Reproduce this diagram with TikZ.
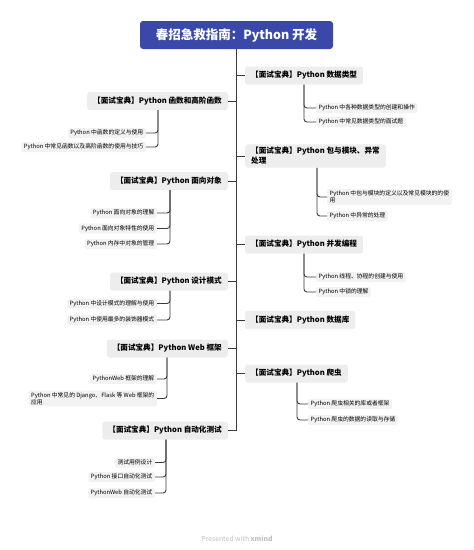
\documentclass[tikz,border=0pt]{standalone}
\usepackage{fontspec}
\setmainfont{Noto Sans CJK SC}
\usepackage{tikz}
\usepackage{xcolor}
\usetikzlibrary{positioning,calc}
\definecolor{rootblue}{HTML}{3A49A9}
\definecolor{linegray}{HTML}{3A3A3A}

\begin{document}
\begin{tikzpicture}[
      x=1pt, y=-1pt,
      root/.style={fill=rootblue, rounded corners=3pt, minimum width=193pt, minimum height=28pt, text=white, font=\fontsize{12.5}{14}\selectfont\bfseries},
      topic/.style={fill=black!7, rounded corners=2.5pt, inner xsep=6pt, inner ysep=3pt, minimum height=18pt, align=left, font=\fontsize{7.6}{10}\selectfont\bfseries},
      sub/.style={fill=black!5, rounded corners=1.5pt, inner xsep=2.5pt, inner ysep=1.5pt, minimum height=10pt, align=left, font=\fontsize{5.8}{7.2}\selectfont},
      link/.style={draw=linegray, line width=0.9pt, rounded corners=3pt}
  ]
    \useasboundingbox (0,0) rectangle (474,550);
    \node[root] (root) at (236.5,35) {春招急救指南：Python 开发};

    % right side
    \node[topic, anchor=west] (types) at (245,75.5) {【面试宝典】Python 数据类型};
    \node[sub, anchor=west] (types1) at (316,108) {Python 中各种数据类型的创建和操作};
    \node[sub, anchor=west] (types2) at (316,122) {Python 中常见数据类型的面试题};
    \node[topic, anchor=west] (pkg) at (245,156) {【面试宝典】Python 包与模块、异常\\处理};
    \node[sub, anchor=west] (pkg1) at (327,197) {Python 中包与模块的定义以及常见模块的的使\\用};
    \node[sub, anchor=west] (pkg2) at (327,216) {Python 中异常的处理};
    \node[topic, anchor=west] (conc) at (245,244.5) {【面试宝典】Python 并发编程};
    \node[sub, anchor=west] (conc1) at (316,277) {Python 线程、协程的创建与使用};
    \node[sub, anchor=west] (conc2) at (316,292) {Python 中锁的理解};
    \node[topic, anchor=west] (db) at (245,320) {【面试宝典】Python 数据库};
    \node[topic, anchor=west] (crawl) at (245,373.5) {【面试宝典】Python 爬虫};
    \node[sub, anchor=west] (crawl1) at (308,404) {Python 爬虫相关的库或者框架};
    \node[sub, anchor=west] (crawl2) at (308,420) {Python 爬虫的数据的读取与存储};

    % left side
    \node[topic, anchor=east] (func) at (228,101) {【面试宝典】Python 函数和高阶函数};
    \node[sub, anchor=east] (func1) at (146,133) {Python 中函数的定义与使用};
    \node[sub, anchor=east] (func2) at (146,147) {Python 中常见函数以及高阶函数的使用与技巧};
    \node[topic, anchor=east] (oop) at (228,181) {【面试宝典】Python 面向对象};
    \node[sub, anchor=east] (oop1) at (157,213) {Python 面向对象的理解};
    \node[sub, anchor=east] (oop2) at (157,228.5) {Python 面向对象特性的使用};
    \node[sub, anchor=east] (oop3) at (157,244) {Python 内存中对象的管理};
    \node[topic, anchor=east] (pat) at (228,281.5) {【面试宝典】Python 设计模式};
    \node[sub, anchor=east] (pat1) at (157,303.5) {Python 中设计模式的理解与使用};
    \node[sub, anchor=east] (pat2) at (157,320) {Python 中使用最多的装饰器模式};
    \node[topic, anchor=east] (web) at (228,348.5) {【面试宝典】Python Web 框架};
    \node[sub, anchor=east] (web1) at (157,379) {PythonWeb 框架的理解};
    \node[sub, anchor=east] (web2) at (157,398.5) {Python 中常见的 Django、Flask 等 Web 框架的\\应用};
    \node[topic, anchor=east] (test) at (228,430.5) {【面试宝典】Python 自动化测试};
    \node[sub, anchor=east] (test1) at (155,462.5) {测试用例设计};
    \node[sub, anchor=east] (test2) at (155,477) {Python 接口自动化测试};
    \node[sub, anchor=east] (test3) at (155,493) {PythonWeb 自动化测试};

    \node[font=\fontsize{6.8}{8}\selectfont, text=black!25] (credit) at (237,538.5) {Presented with \textbf{xmind}};

    % trunk and branches
    \draw[link, rounded corners=0pt] (root.south) -- (root.south |- test.east);
    \foreach \t in {types,pkg,conc,db,crawl}
      \draw[link] (\t.west) -- (\t.west -| root.south);
    \foreach \t in {func,oop,pat,web,test}
      \draw[link] (\t.east) -- (\t.east -| root.south);

    \draw[link] (types.south west) ++(59,0) |- (types1.west);
    \draw[link] (types.south west) ++(59,0) |- (types2.west);
    \draw[link] (pkg.south west) ++(72,0) |- (pkg1.west);
    \draw[link] (pkg.south west) ++(72,0) |- (pkg2.west);
    \draw[link] (conc.south west) ++(59,0) |- (conc1.west);
    \draw[link] (conc.south west) ++(59,0) |- (conc2.west);
    \draw[link] (crawl.south west) ++(52,0) |- (crawl1.west);
    \draw[link] (crawl.south west) ++(52,0) |- (crawl2.west);

    \draw[link] (func.south east) ++(-70,0) |- (func1.east);
    \draw[link] (func.south east) ++(-70,0) |- (func2.east);
    \draw[link] (oop.south east) ++(-58,0) |- (oop1.east);
    \draw[link] (oop.south east) ++(-58,0) |- (oop2.east);
    \draw[link] (oop.south east) ++(-58,0) |- (oop3.east);
    \draw[link] (pat.south east) ++(-58,0) |- (pat1.east);
    \draw[link] (pat.south east) ++(-58,0) |- (pat2.east);
    \draw[link] (web.south east) ++(-61,0) |- (web1.east);
    \draw[link] (web.south east) ++(-61,0) |- (web2.east);
    \draw[link] (test.south east) ++(-62,0) |- (test1.east);
    \draw[link] (test.south east) ++(-62,0) |- (test2.east);
    \draw[link] (test.south east) ++(-62,0) |- (test3.east);
  \end{tikzpicture}
\end{document}
